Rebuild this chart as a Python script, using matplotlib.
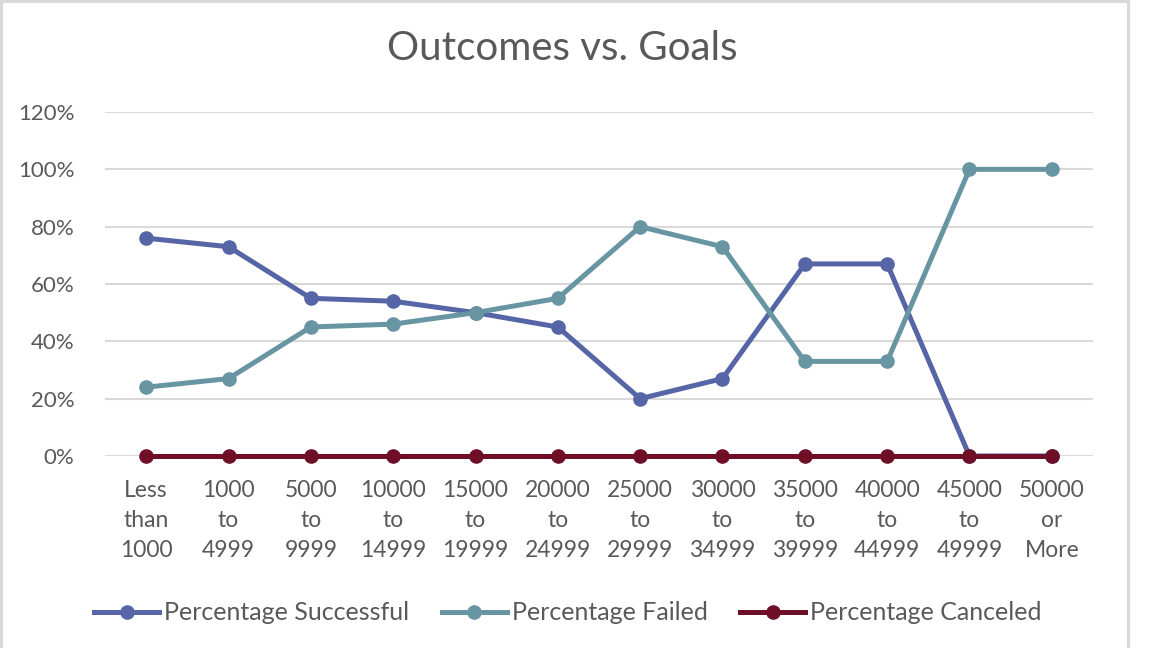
import matplotlib
matplotlib.use("Agg")
import matplotlib.pyplot as plt
from matplotlib.patches import Rectangle
from matplotlib.ticker import PercentFormatter, MultipleLocator

categories = ["Less\nthan\n1000", "1000\nto\n4999", "5000\nto\n9999", "10000\nto\n14999",
              "15000\nto\n19999", "20000\nto\n24999", "25000\nto\n29999", "30000\nto\n34999",
              "35000\nto\n39999", "40000\nto\n44999", "45000\nto\n49999", "50000\nor\nMore"]
pct_successful = [0.76, 0.73, 0.55, 0.54, 0.50, 0.45, 0.20, 0.27, 0.67, 0.67, 0.00, 0.00]
pct_failed     = [0.24, 0.27, 0.45, 0.46, 0.50, 0.55, 0.80, 0.73, 0.33, 0.33, 1.00, 1.00]
pct_canceled   = [0.00, 0.00, 0.00, 0.00, 0.00, 0.00, 0.00, 0.00, 0.00, 0.00, 0.00, 0.00]
series_names = ["Percentage Successful", "Percentage Failed", "Percentage Canceled"]
colors = ["#5565A6", "#6895A2", "#6E0F27"]

plt.rcParams['font.family'] = ['Lato', 'DejaVu Sans']
text_color = "#595959"

fig = plt.figure(figsize=(11.52, 6.48), dpi=100)
W, H = 1152, 648
ax = fig.add_axes([105 / W, 1 - 456 / H, (1093 - 105) / W, (456 - 112) / H])

x = list(range(len(categories)))
for vals, name, c in zip([pct_successful, pct_failed, pct_canceled], series_names, colors):
    ax.plot(x, vals, color=c, lw=3.6, marker='o', ms=9.5, label=name, clip_on=False,
            solid_joinstyle='round', zorder=3)

ax.set_xlim(-0.5, len(categories) - 0.5)
ax.set_ylim(0, 1.2)
ax.yaxis.set_major_locator(MultipleLocator(0.2))
ax.yaxis.set_major_formatter(PercentFormatter(1.0, decimals=0))
ax.set_xticks(x)
ax.set_xticklabels(categories, linespacing=1.55)
ax.grid(axis='y', color='#D9D9D9', lw=1.5, zorder=0)
ax.set_axisbelow(True)
for s in ax.spines.values():
    s.set_visible(False)
ax.tick_params(axis='both', length=0, colors=text_color, labelsize=16)
ax.tick_params(axis='x', pad=17, labelsize=16.5)
ax.tick_params(axis='y', pad=22)

fig.text(562 / W, 1 - 49 / H, "Outcomes vs. Goals", ha='center', va='center',
         fontsize=29, color=text_color)

leg = fig.legend(loc='center', bbox_to_anchor=(568 / W, 1 - 613 / H), ncol=3,
                 frameon=False, fontsize=18, handlelength=2.6, columnspacing=1.3,
                 handletextpad=0.2)
for t in leg.get_texts():
    t.set_color(text_color)

fig.patches.append(Rectangle((1 / W, -0.1), 1127 / W, 1.1 - 1.5 / H, transform=fig.transFigure,
                             fill=False, edgecolor='#D9D9D9', lw=2.2))

fig.savefig("out.png", dpi=100, facecolor='white')
